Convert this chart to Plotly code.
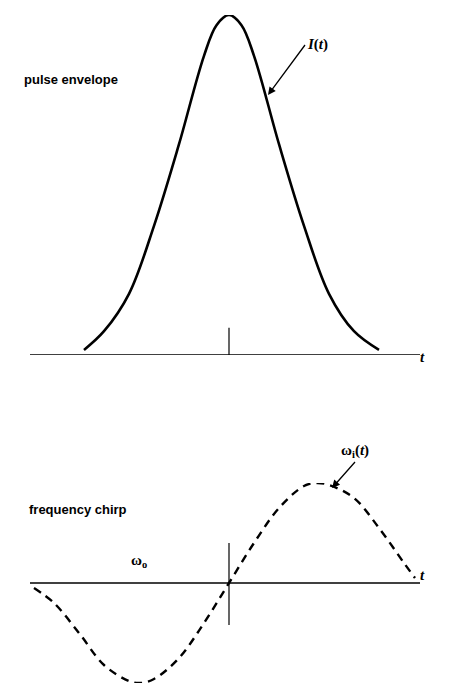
import plotly.graph_objects as go

env_t = [-2.9, -2.5, -2.0, -1.5, -1.0, -0.5, -0.25, 0.0, 0.25, 0.5, 1.0, 1.5, 2.0, 2.5, 3.0]
env_I = [0.015, 0.07, 0.18, 0.38, 0.62, 0.88, 0.97, 1.0, 0.97, 0.88, 0.62, 0.38, 0.18, 0.07, 0.015]
chirp_t = [-3.9, -3.5, -3.0, -2.5, -2.0, -1.78, -1.5, -1.0, -0.5, 0.0, 0.5, 1.0, 1.5, 1.75, 2.0, 2.5, 3.0, 3.5, 3.72]
chirp_w = [-0.05, -0.2, -0.5, -0.82, -0.98, -1.0, -0.96, -0.75, -0.4, 0.0, 0.4, 0.75, 0.97, 1.0, 0.98, 0.85, 0.55, 0.2, 0.05]

W, H = 474, 698
OFF = 8  # page body margin
def px2x(p): return (p - OFF) / W
def py2y(p): return 1 - (p - OFF) / H

fig = go.Figure()
fig.add_trace(go.Scatter(x=env_t, y=env_I, mode="lines", line=dict(color="black", width=2.6, shape="spline"),
                         xaxis="x", yaxis="y"))
fig.add_trace(go.Scatter(x=chirp_t, y=chirp_w, mode="lines",
                         line=dict(color="black", width=2.4, dash="8px,6px", shape="spline"),
                         xaxis="x", yaxis="y2"))
c = 229 - OFF
ax = dict(visible=False, range=[-c/50, (W - c)/50], domain=[0, 1], fixedrange=True)
fig.update_layout(
    width=W, height=H, margin=dict(l=0, r=0, t=0, b=0), showlegend=False,
    plot_bgcolor="white", paper_bgcolor="white",
    xaxis=ax,
    yaxis=dict(visible=False, range=[0, 1], domain=[py2y(355), py2y(15)]),
    yaxis2=dict(visible=False, range=[-1, 1], domain=[py2y(683), py2y(483)]),
)
x0, x1 = -199/50, 191/50
fig.add_shape(type="line", xref="x", yref="y", x0=x0, x1=x1, y0=0, y1=0, line=dict(color="black", width=1.5))
fig.add_shape(type="line", xref="x", yref="y", x0=0, x1=0, y0=0, y1=0.08, line=dict(color="black", width=1.2))
fig.add_shape(type="line", xref="x", yref="y2", x0=x0, x1=x1, y0=0, y1=0, line=dict(color="black", width=1.5))
fig.add_shape(type="line", xref="x", yref="y2", x0=0, x1=0, y0=-0.42, y1=0.4, line=dict(color="black", width=1.2))

f = dict(family="Liberation Sans", size=13, color="black")
def txt(px, py, s, **kw):
    fig.add_annotation(x=px2x(px), y=py2y(py), xref="paper", yref="paper", text=s, showarrow=False,
                       font=kw.pop("font", f), **kw)
txt(22, 70, "<b>pulse envelope</b>", xanchor="left")
txt(27, 519, "<b>frequency chirp</b>", xanchor="left")
fi = dict(family="Liberation Serif", size=15, color="black")
txt(427, 357, "<b><i>t</i></b>", font=fi)
txt(427, 585, "<b><i>t</i></b>", font=fi)
txt(129, 572, "<b>ω<sub>o</sub></b>", font=fi)
fig.add_annotation(x=px2x(268), y=py2y(95), xref="paper", yref="paper", ax=37, ay=-50,
                   text="<b><i>I</i>(<i>t</i>)</b>", font=fi, showarrow=True, arrowhead=2, arrowsize=1.2,
                   arrowwidth=1.3, arrowcolor="black", xanchor="left", yanchor="middle")
fig.add_annotation(x=px2x(332), y=py2y(488), xref="paper", yref="paper", ax=23, ay=-26,
                   text="<b>ω<sub>i</sub>(<i>t</i>)</b>", font=fi, showarrow=True, arrowhead=2, arrowsize=1.2,
                   arrowwidth=1.3, arrowcolor="black", yanchor="bottom")
fig.write_html("out.html")
